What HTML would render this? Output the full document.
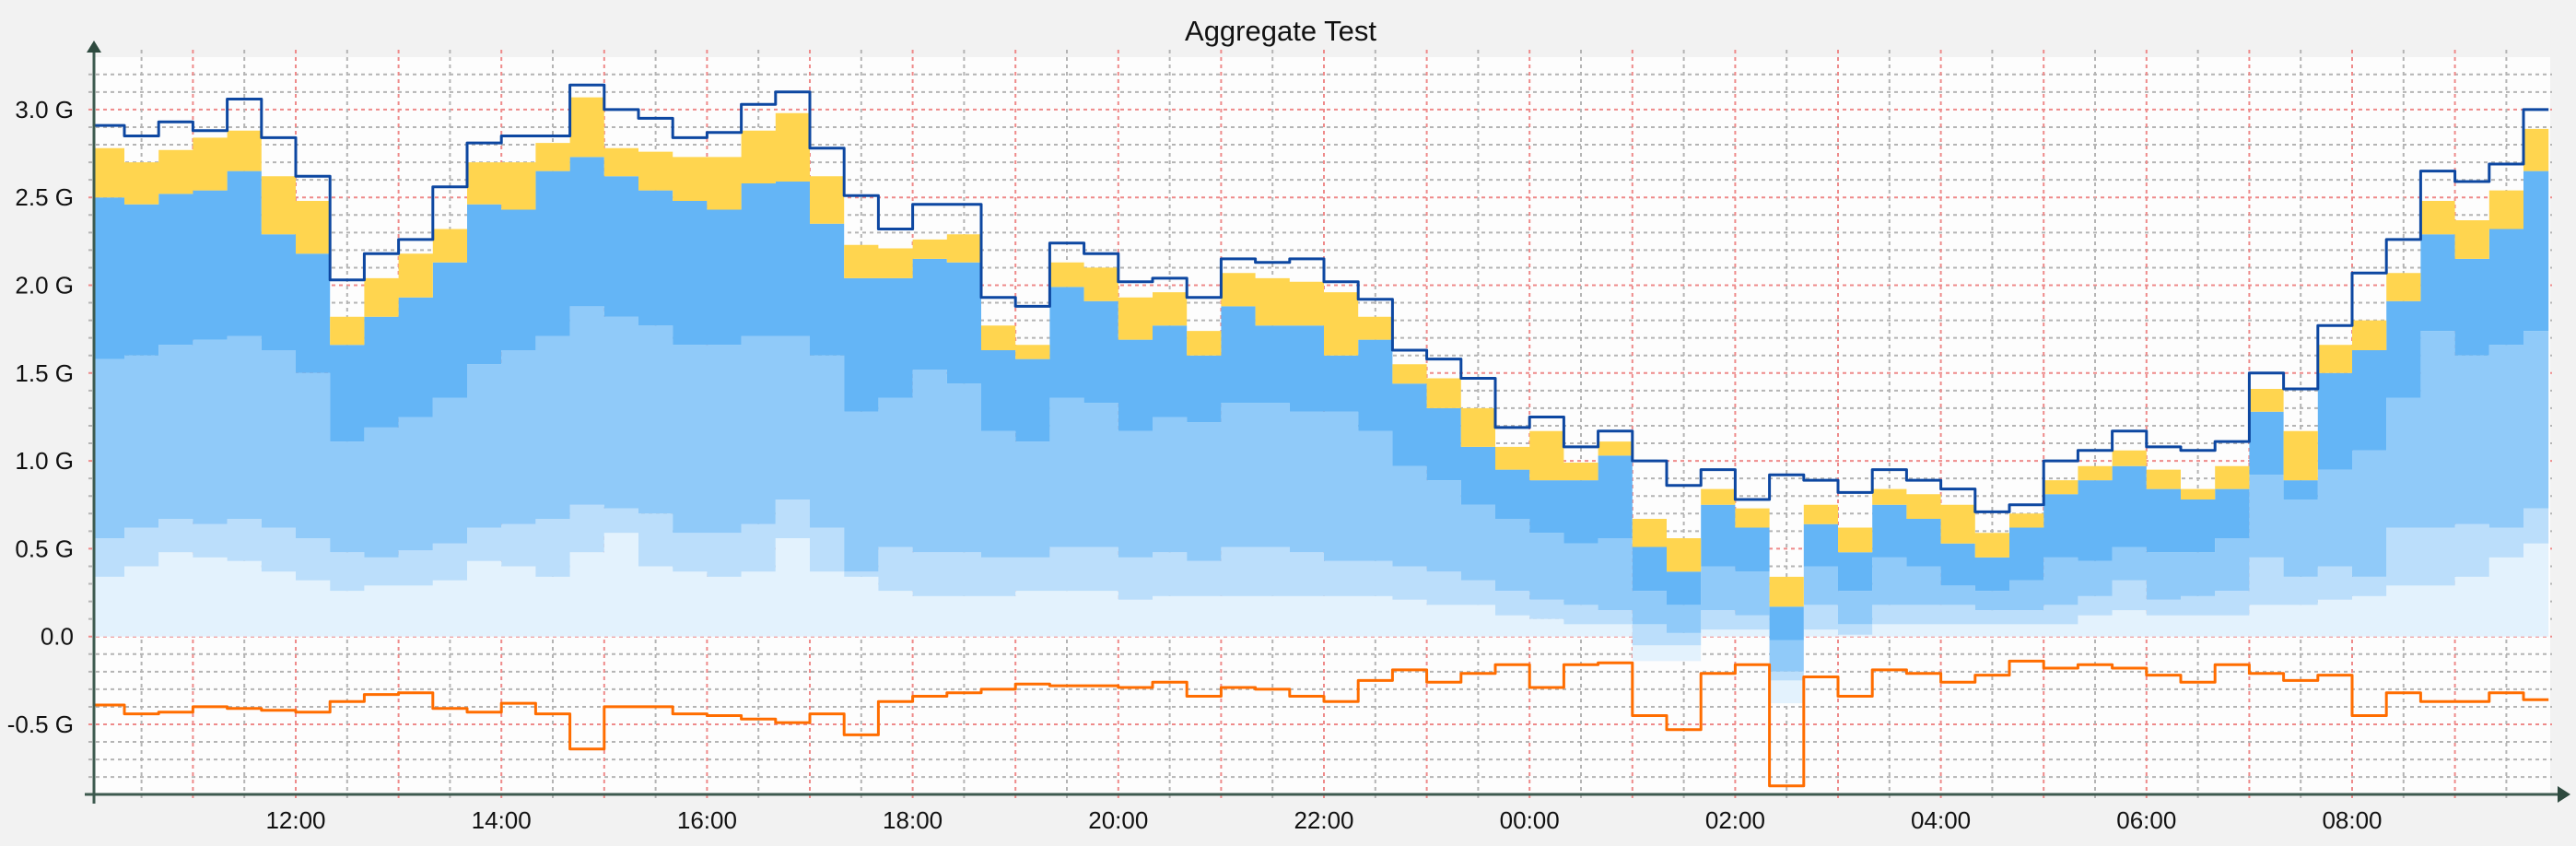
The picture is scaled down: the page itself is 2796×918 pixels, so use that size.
<!DOCTYPE html>
<html><head><meta charset="utf-8"><title>Aggregate Test</title>
<style>
html,body{margin:0;padding:0;background:#f2f2f2;}
svg{display:block;font-family:"Liberation Sans",sans-serif;}
</style></head>
<body>
<svg id="chart" width="2796" height="918" viewBox="0 0 2796 918" xmlns="http://www.w3.org/2000/svg">
<rect x="0" y="0" width="2796" height="918" fill="#f2f2f2"/>
<text x="1390" y="44" font-size="31" text-anchor="middle" fill="#111">Aggregate Test</text>
<rect x="102" y="62" width="2666" height="800" fill="#fdfdfd"/>
<g id="grid"></g>
<g id="areas"></g>
<g id="lines"></g>
<g id="axes"></g>
</svg>
<script>
// ---- data (values in G), one sample per 20 minutes starting 10:00 ----
const hourLabels = ["12:00","14:00","16:00","18:00","20:00","22:00","00:00","02:00","04:00","06:00","08:00"];
const yTickValues = [3.0,2.5,2.0,1.5,1.0,0.5,0.0,-0.5];
const yTickLabels = ["3.0 G","2.5 G","2.0 G","1.5 G","1.0 G","0.5 G","0.0","-0.5 G"];
const total = [2.91,2.85,2.93,2.88,3.06,2.84,2.62,2.03,2.18,2.26,2.56,2.81,2.85,2.85,3.14,3.00,2.95,2.84,2.87,3.03,3.10,2.78,2.51,2.32,2.46,2.46,1.93,1.88,2.24,2.18,2.02,2.04,1.93,2.15,2.13,2.15,2.02,1.92,1.63,1.58,1.47,1.19,1.25,1.08,1.17,1.00,0.86,0.95,0.78,0.92,0.89,0.82,0.95,0.89,0.84,0.71,0.75,1.00,1.06,1.17,1.08,1.06,1.11,1.50,1.41,1.77,2.07,2.26,2.65,2.59,2.69,3.00];
const yellowTop = [2.78,2.70,2.77,2.84,2.88,2.62,2.48,1.82,2.04,2.18,2.32,2.70,2.70,2.81,3.07,2.78,2.76,2.73,2.73,2.88,2.98,2.62,2.23,2.21,2.26,2.29,1.77,1.66,2.13,2.10,1.93,1.96,1.74,2.07,2.04,2.02,1.96,1.82,1.55,1.47,1.30,1.08,1.17,0.99,1.11,0.67,0.56,0.84,0.73,0.34,0.75,0.62,0.84,0.81,0.75,0.59,0.70,0.89,0.97,1.06,0.95,0.84,0.97,1.41,1.17,1.66,1.80,2.07,2.48,2.37,2.54,2.89];
const blueTop = [2.50,2.46,2.52,2.54,2.65,2.29,2.18,1.66,1.82,1.93,2.13,2.46,2.43,2.65,2.73,2.62,2.54,2.48,2.43,2.58,2.59,2.35,2.04,2.04,2.15,2.13,1.63,1.58,1.99,1.91,1.69,1.77,1.60,1.88,1.77,1.77,1.60,1.69,1.44,1.30,1.08,0.95,0.89,0.89,1.03,0.51,0.37,0.75,0.62,0.17,0.64,0.48,0.75,0.67,0.53,0.45,0.62,0.81,0.89,0.97,0.84,0.78,0.84,1.28,0.89,1.50,1.63,1.91,2.29,2.15,2.32,2.65];
const midTop = [1.58,1.60,1.66,1.69,1.71,1.63,1.50,1.11,1.19,1.25,1.36,1.55,1.63,1.71,1.88,1.82,1.77,1.66,1.66,1.71,1.71,1.60,1.28,1.36,1.52,1.44,1.17,1.11,1.36,1.33,1.17,1.25,1.22,1.33,1.33,1.28,1.28,1.17,0.97,0.89,0.75,0.67,0.59,0.53,0.56,0.26,0.18,0.40,0.37,-0.02,0.40,0.26,0.45,0.40,0.29,0.26,0.32,0.45,0.43,0.51,0.48,0.48,0.56,0.92,0.78,0.95,1.06,1.36,1.74,1.60,1.66,1.74];
const lightTop = [0.56,0.62,0.67,0.64,0.67,0.62,0.56,0.48,0.45,0.49,0.53,0.62,0.64,0.67,0.75,0.73,0.70,0.59,0.59,0.64,0.78,0.62,0.37,0.51,0.48,0.48,0.45,0.45,0.51,0.51,0.45,0.48,0.43,0.51,0.51,0.48,0.43,0.43,0.40,0.37,0.32,0.26,0.21,0.18,0.15,0.07,0.02,0.15,0.12,-0.20,0.18,0.07,0.18,0.18,0.18,0.15,0.15,0.18,0.23,0.32,0.21,0.23,0.26,0.45,0.34,0.40,0.34,0.62,0.62,0.64,0.62,0.73];
const paleTop = [0.34,0.40,0.48,0.45,0.43,0.37,0.32,0.26,0.29,0.29,0.32,0.43,0.40,0.34,0.48,0.59,0.40,0.37,0.34,0.37,0.56,0.37,0.34,0.26,0.23,0.23,0.23,0.26,0.26,0.26,0.21,0.23,0.23,0.23,0.23,0.23,0.23,0.23,0.21,0.18,0.18,0.12,0.10,0.07,0.07,-0.05,-0.05,0.04,0.04,-0.25,0.04,0.01,0.07,0.07,0.07,0.07,0.07,0.07,0.12,0.15,0.12,0.12,0.12,0.18,0.18,0.21,0.23,0.29,0.29,0.34,0.45,0.53];
const stackFloor = [0,0,0,0,0,0,0,0,0,0,0,0,0,0,0,0,0,0,0,0,0,0,0,0,0,0,0,0,0,0,0,0,0,0,0,0,0,0,0,0,0,0,0,0,0,-0.14,-0.14,0,0,-0.38,0,0,0,0,0,0,0,0,0,0,0,0,0,0,0,0,0,0,0,0,0,0];
const negative = [-0.39,-0.44,-0.43,-0.40,-0.41,-0.42,-0.43,-0.37,-0.33,-0.32,-0.41,-0.43,-0.38,-0.44,-0.64,-0.40,-0.40,-0.44,-0.45,-0.47,-0.49,-0.44,-0.56,-0.37,-0.34,-0.32,-0.30,-0.27,-0.28,-0.28,-0.29,-0.26,-0.34,-0.29,-0.30,-0.34,-0.37,-0.25,-0.19,-0.26,-0.21,-0.16,-0.29,-0.16,-0.15,-0.45,-0.53,-0.21,-0.16,-0.85,-0.23,-0.34,-0.19,-0.21,-0.26,-0.22,-0.14,-0.18,-0.16,-0.18,-0.22,-0.26,-0.16,-0.21,-0.25,-0.22,-0.45,-0.32,-0.37,-0.37,-0.32,-0.36];

// ---- scales ----
const X0 = 97.8, PX_PER_HOUR = 111.6, STEP_H = 1/3, T_END = 23.91;
const Y_ZERO = 690.7, PX_PER_G = 190.6;
const PLOT_L = 102, PLOT_R = 2768, PLOT_T = 62, PLOT_B = 862;
function xOf(t){ return Math.max(PLOT_L, X0 + t*PX_PER_HOUR); }
function yOf(v){ return Math.min(PLOT_B, Math.max(PLOT_T, Y_ZERO - v*PX_PER_G)); }
function tOf(i){ return i*STEP_H; }
function tNext(i){ return Math.min(T_END, (i+1)*STEP_H); }
const NS = "http://www.w3.org/2000/svg";
function mk(tag, attrs, parent){ const e=document.createElementNS(NS,tag); for(const k in attrs) e.setAttribute(k,attrs[k]); parent.appendChild(e); return e; }

// ---- grid ----
const grid = document.getElementById('grid');
for(let k=-9;k<=32;k++){
  const v=k/10, y=yOf(v);
  if(Y_ZERO - v*PX_PER_G < PLOT_T-1 || Y_ZERO - v*PX_PER_G > PLOT_B-2) continue;
  const major = (k%5===0);
  const gl = mk('line',{x1:96,x2:2770,y1:y,y2:y,stroke:major?'#ee8a8a':'#b4b4b4','stroke-width':2,'stroke-dasharray':'4 4'},grid);
  
  
}
for(let h=0.5; X0+h*PX_PER_HOUR < PLOT_R; h+=0.5){
  const x=X0+h*PX_PER_HOUR, major = (Math.abs(h-Math.round(h))<1e-6);
  const vl = mk('line',{x1:x,x2:x,y1:PLOT_T-8,y2:PLOT_B+(major?8:6),stroke:major?'#ee8a8a':'#b4b4b4','stroke-width':2,'stroke-dasharray':'4 4'},grid);
  
  
}

// ---- stacked areas ----
function bandPath(lower, upper){
  let d='';
  for(let i=0;i<upper.length;i++){
    const xa=xOf(tOf(i)), xb=xOf(tNext(i)), y=yOf(upper[i]);
    d += (i===0?'M':'L')+xa.toFixed(1)+' '+y.toFixed(1)+' L'+xb.toFixed(1)+' '+y.toFixed(1)+' ';
  }
  for(let i=lower.length-1;i>=0;i--){
    const xa=xOf(tOf(i)), xb=xOf(tNext(i)), y=yOf(lower[i]);
    d += 'L'+xb.toFixed(1)+' '+y.toFixed(1)+' L'+xa.toFixed(1)+' '+y.toFixed(1)+' ';
  }
  return d+'Z';
}
const areas=document.getElementById('areas');
const a1 = mk('path',{d:bandPath(stackFloor,paleTop),fill:'#e3f2fd'},areas);


const a2 = mk('path',{d:bandPath(paleTop,lightTop),fill:'#bbdefb'},areas);


const a3 = mk('path',{d:bandPath(lightTop,midTop),fill:'#90caf9'},areas);


const a4 = mk('path',{d:bandPath(midTop,blueTop),fill:'#64b5f6'},areas);


const a5 = mk('path',{d:bandPath(blueTop,yellowTop),fill:'#ffd54f'},areas);



// ---- lines ----
function stepLine(vals){
  let d='';
  for(let i=0;i<vals.length;i++){
    const xa=xOf(tOf(i)), xb=xOf(tNext(i)), y=yOf(vals[i]);
    d += (i===0?'M':'L')+xa.toFixed(1)+' '+y.toFixed(1)+' L'+xb.toFixed(1)+' '+y.toFixed(1)+' ';
  }
  return d;
}
const lines=document.getElementById('lines');
const lt = mk('path',{d:stepLine(total),fill:'none',stroke:'#0d47a1','stroke-width':3,'stroke-linejoin':'round'},lines);


const lo = mk('path',{d:stepLine(negative),fill:'none',stroke:'#ff6d00','stroke-width':3,'stroke-linejoin':'round'},lines);



// ---- axes ----
const axes=document.getElementById('axes');
const ya = mk('line',{x1:PLOT_L,x2:PLOT_L,y1:52,y2:872,stroke:'#3d5a4f','stroke-width':3},axes);


const yar = mk('polygon',{points:'94,57 110,57 102,44',fill:'#2e4a3f'},axes);


const xa = mk('line',{x1:92,x2:2778,y1:PLOT_B,y2:PLOT_B,stroke:'#3d5a4f','stroke-width':3},axes);


const xar = mk('polygon',{points:'2776,853 2776,871 2790,862',fill:'#2e4a3f'},axes);


for(let i=0;i<yTickValues.length;i++){
  const y=yOf(yTickValues[i]);
  const tx = mk('text',{x:80,y:y+9,'font-size':26,'text-anchor':'end',fill:'#111'},axes);
  tx.textContent=yTickLabels[i];
  
  
}
for(let i=0;i<hourLabels.length;i++){
  const x=X0+(2+2*i)*PX_PER_HOUR;
  const tx = mk('text',{x:x,y:899,'font-size':26,'text-anchor':'middle',fill:'#111'},axes);
  tx.textContent=hourLabels[i];
  
  
}
</script>
</body></html>
